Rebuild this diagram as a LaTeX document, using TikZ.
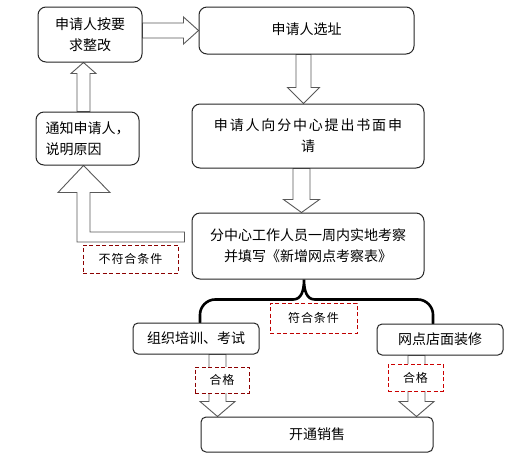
\documentclass[tikz,border=0pt]{standalone}
\usepackage{fontspec}
\setmainfont{Noto Sans CJK SC}
\usetikzlibrary{calc}
\pgfdeclarelayer{bg}
\pgfsetlayers{bg,main}
\tikzset{
 box/.style={draw=black!85, line width=1pt, rounded corners=8pt, fill=white, inner sep=0pt, align=center, font=\fontsize{14}{21}\selectfont},
 sbox/.style={box, rounded corners=5pt},
 lab/.style={draw=#1, dash pattern=on 4pt off 2.5pt, line width=0.9pt, fill=white, inner sep=0pt, font=\fontsize{12}{14}\selectfont\addfontfeatures{LetterSpace=8}},
 blockarrow/.style={draw=black!65, line width=0.9pt, fill=white, line join=miter},
 brace/.style={line width=2.6pt, draw=black, line cap=round}
}
\newcommand{\varrowdown}[6]{%
 \draw[blockarrow] let \p1=(#2), \p2=(#3) in
 ({#1pt-#4pt},\y1) -- ({#1pt-#4pt},{\y2+#6pt}) -- ({#1pt-#5pt},{\y2+#6pt}) -- ({#1pt},\y2) -- ({#1pt+#5pt},{\y2+#6pt}) -- ({#1pt+#4pt},{\y2+#6pt}) -- ({#1pt+#4pt},\y1) -- cycle;}
\newcommand{\varrowup}[6]{%
 \draw[blockarrow] let \p1=(#2), \p2=(#3) in
 ({#1pt-#4pt},\y1) -- ({#1pt-#4pt},{\y2-#6pt}) -- ({#1pt-#5pt},{\y2-#6pt}) -- ({#1pt},\y2) -- ({#1pt+#5pt},{\y2-#6pt}) -- ({#1pt+#4pt},{\y2-#6pt}) -- ({#1pt+#4pt},\y1) -- cycle;}
\begin{document}
\begin{tikzpicture}[x=1pt,y=-1pt]
\useasboundingbox (0,0) rectangle (532,467);
% boxes
\node[box, minimum width=104pt, minimum height=55pt] (b1) at (90,34.5) {申请人按要\\求整改};
\node[box, minimum width=215pt, minimum height=47pt] (b2) at (306.5,30.5) {\raisebox{3pt}{申请人选址}};
\node[box, minimum width=103pt, minimum height=53pt, align=left] (b3) at (87.5,138.5) {通知申请人，\\说明原因};
\node[box, minimum width=232pt, minimum height=64pt] (b4) at (308,136) {\addfontfeatures{LetterSpace=13}申请人向分中心提出书面申\\请};
\node[box, minimum width=232pt, minimum height=66pt] (b5) at (308,246) {分中心工作人员一周内实地考察\\并填写《新增网点考察表》};
\node[sbox, minimum width=126pt, minimum height=31pt] (b6) at (196,338.5) {组织培训、考试};
\node[sbox, minimum width=126pt, minimum height=31pt] (b7) at (440,339.5) {网点店面装修};
\node[sbox, minimum width=232pt, minimum height=35pt] (b8) at (317,434.5) {开通销售};
% labels
\node[lab=red!55!black, minimum width=95pt, minimum height=28pt] (l1) at (130.5,259) {不符合条件};
\node[lab=red!75!black, minimum width=87pt, minimum height=30pt] (l2) at (313.5,318) {符合条件};
\node[lab=red!55!black, minimum width=54pt, minimum height=26pt] (l3) at (222,380) {合格};
\node[lab=red!80!black, minimum width=55pt, minimum height=27pt] (l4) at (415.5,377.5) {合格};
\begin{pgfonlayer}{bg}
% b1 -> b2
\draw[blockarrow] let \p1=(b1.east), \p2=(b2.west) in
 (\x1,-23pt) -- ({\x2-15pt},-23pt) -- ({\x2-15pt},-17pt) -- (\x2,-30.5pt) -- ({\x2-15pt},-44pt) -- ({\x2-15pt},-38pt) -- (\x1,-38pt) -- cycle;
% b2 -> b4
\varrowdown{303.5}{b2.south}{b4.north}{7.5}{16}{16}
% b4 -> b5
\varrowdown{301.5}{b4.south}{b5.north}{8.5}{18}{13}
% b3 -> b1
\varrowup{83.5}{b3.north}{b1.south}{6.5}{12.5}{11}
% b5 -> b3
\draw[blockarrow] let \p1=(b5.west), \p2=(b3.south) in
 ({\x1-7pt},-232pt) -- (90pt,-232pt) -- (90pt,{\y2-27pt}) -- (110pt,{\y2-27pt}) -- (83.5pt,\y2) -- (58pt,{\y2-27pt}) -- (77pt,{\y2-27pt}) -- (77pt,-242pt) -- ({\x1-7pt},-242pt) -- cycle;
% b6 -> b8, b7 -> b8
\varrowdown{217.5}{b6.south}{b8.north}{8.5}{17.5}{15}
\varrowdown{416.5}{b7.south}{b8.north}{8.5}{17.5}{15}
% brace b5 -> b6, b7
\coordinate (cusp) at ($(b5.south)+(-4,0)$);
\coordinate (bl) at ($(b6.north)+(4,0)$);
\coordinate (br) at ($(b7.north)+(-7,0)$);
\draw[brace] let \p1=(cusp), \p2=(bl), \p3=(br) in
 (\x2,\y2) -- ({\x2},{\y1-35pt}) .. controls ({\x2},{\y1-27pt}) and ({\x2+7pt},{\y1-20pt}) .. ({\x2+15pt},{\y1-20pt})
 -- ({\x1-11pt},{\y1-20pt}) .. controls ({\x1-3pt},{\y1-20pt}) and ({\x1},{\y1-12pt}) .. (\x1,\y1)
 .. controls ({\x1},{\y1-12pt}) and ({\x1+3pt},{\y1-20pt}) .. ({\x1+11pt},{\y1-20pt})
 -- ({\x3-15pt},{\y1-20pt}) .. controls ({\x3-7pt},{\y1-20pt}) and ({\x3},{\y1-27pt}) .. ({\x3},{\y1-35pt}) -- (\x3,\y3);
\end{pgfonlayer}
\end{tikzpicture}
\end{document}
